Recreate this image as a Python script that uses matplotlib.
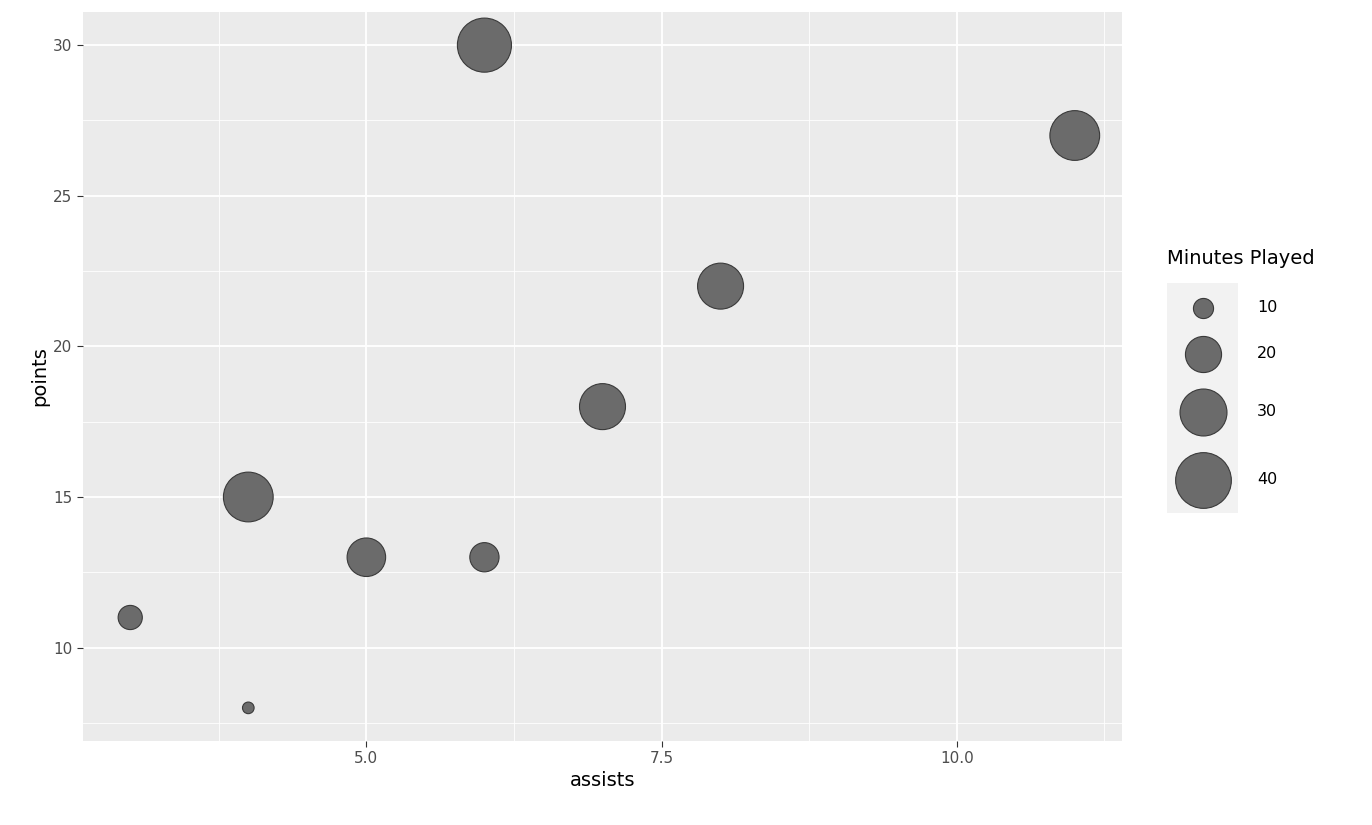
import matplotlib
matplotlib.use("Agg")
import matplotlib.pyplot as plt
import numpy as np

assists = [3, 4, 4, 5, 6, 6, 7, 8, 11]
points = [11, 8, 15, 13, 13, 30, 18, 22, 27]
minutes = [12, 7, 33, 22, 15, 38, 29, 29, 33]
legend_breaks = [10, 20, 30, 40]

def size_px(v):
    return np.sqrt(90 * (np.asarray(v, float) - 5.5))

def s_of(v):
    return (size_px(v) * 0.72) ** 2

W, H = 1372, 825
fig = plt.figure(figsize=(W / 100, H / 100), dpi=100)
ax = fig.add_axes([83 / W, 1 - 741 / H, (1122 - 83) / W, (741 - 12) / H])
ax.set_facecolor("#EBEBEB")
ax.set_xlim(2.6, 11.4)
ax.set_ylim(6.9, 31.1)
ax.set_xticks([5, 7.5, 10])
ax.set_xticklabels(["5.0", "7.5", "10.0"])
ax.set_yticks([10, 15, 20, 25, 30])
ax.set_xticks([3.75, 6.25, 8.75, 11.25], minor=True)
ax.set_yticks([7.5, 12.5, 17.5, 22.5, 27.5], minor=True)
ax.grid(which="major", color="white", lw=1.3)
ax.grid(which="minor", color="white", lw=0.6)
ax.set_axisbelow(True)
for s in ax.spines.values():
    s.set_visible(False)
ax.tick_params(which="both", length=0)
ax.tick_params(which="major", length=4, color="#333333", labelsize=11, labelcolor="#4D4D4D")
ax.set_xlabel("assists", fontsize=14, labelpad=3)
ax.set_ylabel("points", fontsize=14, labelpad=3)

ax.scatter(assists, points, s=s_of(minutes), facecolor="#6b6b6b", edgecolor="#3a3a3a", linewidth=0.8, zorder=3)

# legend
fig.text(1167 / W, 1 - 258 / H, "Minutes Played", fontsize=14, va="center", ha="left")
lax = fig.add_axes([1167 / W, 1 - 513 / H, 71 / W, 230 / H])
lax.set_facecolor("#F2F2F2")
lax.set_xlim(0, 71)
lax.set_ylim(230, 0)
lax.set_xticks([]); lax.set_yticks([])
for s in lax.spines.values():
    s.set_visible(False)
centers = [25, 71, 129, 197]
for b, c in zip(legend_breaks, centers):
    lax.scatter([35.5], [c], s=s_of(b), facecolor="#6b6b6b", edgecolor="#3a3a3a", linewidth=0.8, clip_on=False)
    fig.text(1257 / W, 1 - (283 + c) / H, str(b), fontsize=11.5, va="center", ha="left")

fig.savefig("out.png", dpi=100)
